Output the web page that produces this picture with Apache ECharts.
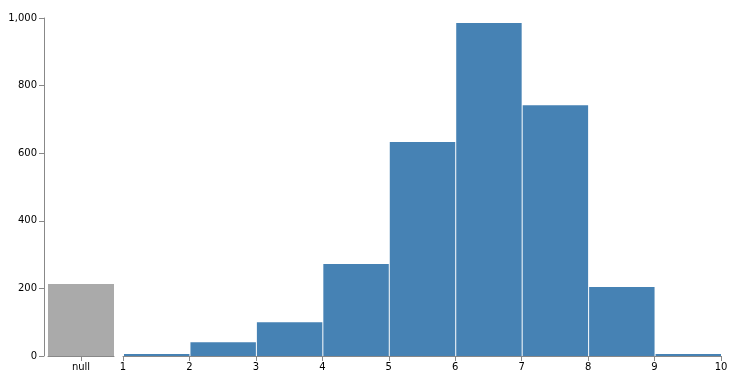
<!DOCTYPE html>
<html>
<head>
<meta charset="utf-8">
<script src="https://cdn.jsdelivr.net/npm/echarts@6/dist/echarts.min.js"></script>
<style>html,body{margin:0;padding:0;background:#fff}#c{width:738px;height:376px}</style>
</head>
<body>
<div id="c"></div>
<script>
const binStarts = [1, 2, 3, 4, 5, 6, 7, 8, 9];
const binEnds   = [2, 3, 4, 5, 6, 7, 8, 9, 10];
const counts    = [6, 41, 100, 272, 633, 985, 742, 204, 6];
const nullCategory = ['null'];
const nullCount = [213];
const yTicks = [0, 200, 400, 600, 800, 1000];

const chart = echarts.init(document.getElementById('c'), null, {renderer: 'canvas'});
const font = 'DejaVu Sans, sans-serif';
const axisCommon = {
  axisLine: {show: true, lineStyle: {color: '#888', width: 1}},
  axisTick: {show: true, length: 5, lineStyle: {color: '#888', width: 1}},
  axisLabel: {color: '#000', fontSize: 10, fontFamily: font},
  splitLine: {show: false}
};
const mainData = binStarts.map((s, i) => [s, binEnds[i], counts[i]]);

chart.setOption({
  animation: false,
  grid: [
    {left: 48, width: 66, top: 18, bottom: 20},
    {left: 123, right: 17, top: 18, bottom: 20}
  ],
  xAxis: [
    Object.assign({}, axisCommon, {
      gridIndex: 0, type: 'category', data: nullCategory,
      axisTick: {show: true, length: 5, alignWithLabel: true, lineStyle: {color: '#888'}},
      axisLabel: {color: '#000', fontSize: 10, fontFamily: font, margin: 6}
    }),
    Object.assign({}, axisCommon, {
      gridIndex: 1, type: 'value', min: 1, max: 10, interval: 1,
      axisLabel: {color: '#000', fontSize: 10, fontFamily: font, margin: 6, showMinLabel: true, showMaxLabel: true}
    })
  ],
  yAxis: [
    Object.assign({}, axisCommon, {
      gridIndex: 0, type: 'value', min: 0, max: 1000, interval: 200, offset: 4,
      axisLabel: {color: '#000', fontSize: 10, fontFamily: font, margin: 7,
        formatter: v => v.toLocaleString('en-US')}
    }),
    {gridIndex: 1, type: 'value', min: 0, max: 1000, interval: 200, show: false, splitLine: {show: false}}
  ],
  series: [
    {
      type: 'bar', xAxisIndex: 0, yAxisIndex: 0, data: nullCount,
      barWidth: '100%', itemStyle: {color: '#aaaaaa'}
    },
    {
      type: 'custom', xAxisIndex: 1, yAxisIndex: 1, data: mainData,
      encode: {x: [0, 1], y: 2},
      renderItem: function (params, api) {
        const s = api.coord([api.value(0), 0]);
        const e = api.coord([api.value(1), api.value(2)]);
        return {
          type: 'rect',
          shape: {x: s[0] + 1, y: e[1], width: e[0] - s[0] - 1, height: s[1] - e[1]},
          style: {fill: '#4682b4'}
        };
      }
    }
  ]
});
</script>
</body>
</html>
